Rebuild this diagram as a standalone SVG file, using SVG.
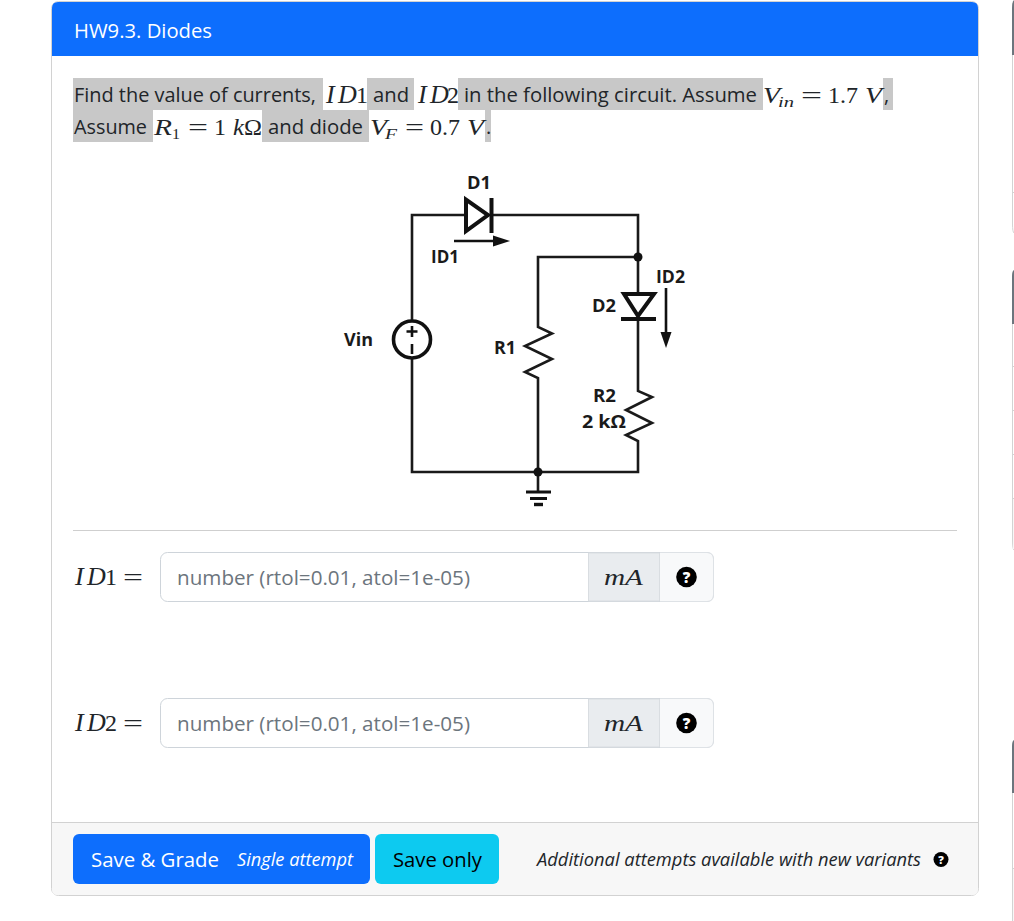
<svg xmlns="http://www.w3.org/2000/svg" width="1014" height="921" viewBox="0 0 1014 921">
<style>
text{font-family:"Open Sans","Noto Sans","Liberation Sans",sans-serif;fill:#212529;font-size:20px}
.m{font-family:"Liberation Serif","Times New Roman",serif;font-size:24px;fill:#212529}
.i{font-style:italic}
.s{font-size:15px}
.L{font-size:26px}
.lab{font-family:"Open Sans","Liberation Sans",sans-serif;font-weight:700;font-size:17px;fill:#1a1a1a}
.w{fill:none;stroke:#1a1a1a;stroke-width:2.600}
.d{fill:none;stroke:#111;stroke-width:4}
.h{fill:#c8c8c8}
.b{stroke:#d3d3d3;fill:none}
.ph{fill:#6c757d}
.q{font-family:"Open Sans","Liberation Sans",sans-serif;font-weight:800;fill:#fff;text-anchor:middle}
</style>
<rect width="1014" height="921" fill="#fff"/>
<g id="side-cards">
<path d="M1014 1.500Q1012.500 2 1012.500 8V224Q1012.500 232 1014 233" class="b"/>
<path d="M1012 8Q1012 2 1014 0V55H1012Z" fill="#6c757d"/>
<path d="M1012 192.500H1014" class="b"/>
<path d="M1012.500 276V540Q1012.500 549 1014 550" class="b"/>
<path d="M1012 276Q1012 271 1014 270V324H1012Z" fill="#6c757d"/>
<path d="M1012 366.500H1014M1012 410.500H1014M1012 454.500H1014M1012 498.500H1014" class="b"/>
<rect x="1013" y="499" width="1" height="50" fill="#f7f7f7"/>
<path d="M1012.500 746V921" class="b"/>
<path d="M1012 746Q1012 741 1014 740V793H1012Z" fill="#6c757d"/>
<path d="M1012 868.500H1014" class="b"/>
<rect x="1013" y="869" width="1" height="52" fill="#f7f7f7"/>
</g>
<g id="card">
<rect x="51.500" y="1.500" width="927" height="894" rx="7" fill="#fff" stroke="#d2d2d2"/>
<path d="M52 56V8Q52 2 58 2H972Q978 2 978 8V56Z" fill="#0d6efd"/>
<text x="74" y="37.500" textLength="138" lengthAdjust="spacingAndGlyphs" style="fill:#fff">HW9.3. Diodes</text>
<path d="M52 823H978V889Q978 895 972 895H58Q52 895 52 889Z" fill="#f7f7f7"/>
<path d="M52 822.500H978" stroke="#d2d2d2"/>
<path d="M73 530.500H957" stroke="#cfcfcf"/>
</g>
<g id="question">
<rect class="h" x="73" y="78" width="250" height="32"/>
<rect class="h" x="367" y="78" width="47" height="32"/>
<rect class="h" x="458" y="78" width="305" height="32"/>
<rect class="h" x="883" y="78" width="10" height="32"/>
<rect class="h" x="73" y="110" width="80" height="32"/>
<rect class="h" x="262" y="110" width="107" height="32"/>
<rect class="h" x="485" y="110" width="6" height="32"/>
<text x="74" y="102" textLength="242" lengthAdjust="spacingAndGlyphs">Find the value of currents,</text>
<text class="m i L" x="326" y="103">I</text><text class="m i L" x="338" y="103">D</text><text class="m" x="356" y="103">1</text>
<text x="373" y="102" textLength="36" lengthAdjust="spacingAndGlyphs">and</text>
<text class="m i L" x="418" y="103">I</text><text class="m i L" x="430" y="103">D</text><text class="m" x="447" y="103">2</text>
<text x="464" y="102" textLength="293" lengthAdjust="spacingAndGlyphs">in the following circuit. Assume</text>
<text class="m i" x="763" y="103" textLength="17" lengthAdjust="spacingAndGlyphs">V</text><text class="m i s" x="778" y="107" textLength="16" lengthAdjust="spacingAndGlyphs">in</text>
<text class="m" x="801" y="103" textLength="21" lengthAdjust="spacingAndGlyphs">=</text><text class="m" x="828" y="103" textLength="30" lengthAdjust="spacingAndGlyphs">1.7</text><text class="m i" x="865" y="103" textLength="17" lengthAdjust="spacingAndGlyphs">V</text>
<text x="884" y="102">,</text>
<text x="74" y="134" textLength="73" lengthAdjust="spacingAndGlyphs">Assume</text>
<text class="m i" x="154" y="135" textLength="18" lengthAdjust="spacingAndGlyphs">R</text><text class="m s" x="172" y="139" textLength="8" lengthAdjust="spacingAndGlyphs">1</text>
<text class="m" x="188" y="135" textLength="20" lengthAdjust="spacingAndGlyphs">=</text><text class="m" x="214" y="135">1</text><text class="m i" x="233" y="135" textLength="11" lengthAdjust="spacingAndGlyphs">k</text><text class="m" x="244" y="135" textLength="18" lengthAdjust="spacingAndGlyphs">Ω</text>
<text x="268" y="134" textLength="95" lengthAdjust="spacingAndGlyphs">and diode</text>
<text class="m i" x="370" y="135" textLength="17" lengthAdjust="spacingAndGlyphs">V</text><text class="m i s" x="385" y="139" textLength="12" lengthAdjust="spacingAndGlyphs">F</text>
<text class="m" x="405" y="135" textLength="19" lengthAdjust="spacingAndGlyphs">=</text><text class="m" x="430" y="135" textLength="30" lengthAdjust="spacingAndGlyphs">0.7</text><text class="m i" x="467" y="135" textLength="17" lengthAdjust="spacingAndGlyphs">V</text>
<text x="486" y="134">.</text>
</g>
<g id="connectors">
<path class="w" d="M412 321V215H466M492 215H638V293M638 319V391L652 397L626 410L652 423L626 435L638 441V472H412V358"/>
<path class="w" d="M638 257H538V327L552 333.500L525 346L552 359L525 372L538 378V472V492"/>
</g>
<g id="node-top"><circle cx="638" cy="257" r="4.500" fill="#111"/></g>
<g id="node-bottom"><circle cx="538" cy="472" r="4.500" fill="#111"/></g>
<g id="D1">
<path class="d" d="M466 199.500V231L488 215Z"/><path class="d" d="M491.500 198V233"/>
<text class="lab" x="467" y="188.500" textLength="24" lengthAdjust="spacingAndGlyphs">D1</text>
</g>
<g id="I1">
<path d="M454 241H494" stroke="#111" stroke-width="2.600"/><path d="M493 235.500L510 241L493 246.500Z" fill="#111"/>
<text class="lab" x="431" y="262.500" textLength="28" lengthAdjust="spacingAndGlyphs">ID1</text>
</g>
<g id="D2">
<path class="d" d="M624 294H654L638 316Z"/><path class="d" d="M621 319H656"/>
<text class="lab" x="592" y="311.500" textLength="24" lengthAdjust="spacingAndGlyphs">D2</text>
</g>
<g id="I2">
<path d="M666 288V334" stroke="#111" stroke-width="2.600"/><path d="M660.500 332L666 348L671.500 332Z" fill="#111"/>
<text class="lab" x="656" y="282.500" textLength="29" lengthAdjust="spacingAndGlyphs">ID2</text>
</g>
<g id="Vin">
<circle cx="412" cy="339.500" r="18.500" fill="#fff" stroke="#111" stroke-width="3.600"/>
<path d="M412 326V337M406.500 331.500H417.500M412 344V354" stroke="#111" stroke-width="2.600" fill="none"/>
<text class="lab" x="344" y="345.500" textLength="29" lengthAdjust="spacingAndGlyphs">Vin</text>
</g>
<g id="R1"><text class="lab" x="494" y="353.500" textLength="22" lengthAdjust="spacingAndGlyphs">R1</text></g>
<g id="R2">
<text class="lab" x="593" y="401.500" textLength="23" lengthAdjust="spacingAndGlyphs">R2</text>
<text class="lab" x="582" y="427.500" textLength="44" lengthAdjust="spacingAndGlyphs">2 kΩ</text>
</g>
<g id="ground">
<path d="M526 492H551" stroke="#111" stroke-width="3"/><path d="M530 498.500H547" stroke="#111" stroke-width="3"/><path d="M534 504.500H543" stroke="#111" stroke-width="3.400"/>
</g>
<g id="answer-1">
<text class="m i L" x="75" y="585">I</text><text class="m i L" x="87" y="585">D</text><text class="m" x="105" y="585">1</text><text class="m" x="123" y="585" textLength="20" lengthAdjust="spacingAndGlyphs">=</text>
<rect x="160.500" y="552.500" width="553" height="49" rx="7" fill="#fff" stroke="#ced4da"/>
<path d="M588.500 553H659.500V601H588.500Z" fill="#e9ecef" stroke="#d9dde1"/>
<path d="M660 553H707Q713 553 713 559V595Q713 601 707 601H660Z" fill="#f8f9fa"/>
<path d="M660 552.500H707Q713.500 552.500 713.500 559V595Q713.500 601.500 707 601.500H660" fill="none" stroke="#dee2e6"/>
<text class="ph" x="177" y="585" textLength="293" lengthAdjust="spacingAndGlyphs">number (rtol=0.01, atol=1e-05)</text>
<text class="m i" x="604" y="585" textLength="39" lengthAdjust="spacingAndGlyphs">mA</text>
<circle cx="686.500" cy="577" r="10.300" fill="#000"/><text class="q" x="686.500" y="582.500" style="font-size:15px">?</text>
</g>
<g id="answer-2">
<text class="m i L" x="75" y="731">I</text><text class="m i L" x="87" y="731">D</text><text class="m" x="105" y="731">2</text><text class="m" x="123" y="731" textLength="20" lengthAdjust="spacingAndGlyphs">=</text>
<rect x="160.500" y="698.500" width="553" height="49" rx="7" fill="#fff" stroke="#ced4da"/>
<path d="M588.500 699H659.500V747H588.500Z" fill="#e9ecef" stroke="#d9dde1"/>
<path d="M660 699H707Q713 699 713 705V741Q713 747 707 747H660Z" fill="#f8f9fa"/>
<path d="M660 698.500H707Q713.500 698.500 713.500 705V741Q713.500 747.500 707 747.500H660" fill="none" stroke="#dee2e6"/>
<text class="ph" x="177" y="731" textLength="293" lengthAdjust="spacingAndGlyphs">number (rtol=0.01, atol=1e-05)</text>
<text class="m i" x="604" y="731" textLength="39" lengthAdjust="spacingAndGlyphs">mA</text>
<circle cx="686.500" cy="723" r="10.300" fill="#000"/><text class="q" x="686.500" y="728.500" style="font-size:15px">?</text>
</g>
<g id="save-grade">
<rect x="73" y="834" width="297" height="50" rx="6" fill="#0d6efd"/>
<text x="91" y="867" textLength="128" lengthAdjust="spacingAndGlyphs" style="fill:#fff">Save &amp; Grade</text>
<text class="i" x="237" y="866" textLength="116" lengthAdjust="spacingAndGlyphs" style="fill:#fff;font-size:18px">Single attempt</text>
</g>
<g id="save-only">
<rect x="375" y="834" width="124" height="50" rx="6" fill="#0dcaf0"/>
<text x="393" y="867" textLength="89" lengthAdjust="spacingAndGlyphs" style="fill:#000">Save only</text>
</g>
<g id="attempts">
<text class="i" x="537" y="866" textLength="384" lengthAdjust="spacingAndGlyphs" style="font-size:18px">Additional attempts available with new variants</text>
<circle cx="941" cy="859.500" r="7.500" fill="#000"/><text class="q" x="941" y="863.500" style="font-size:11px">?</text>
</g>
</svg>
